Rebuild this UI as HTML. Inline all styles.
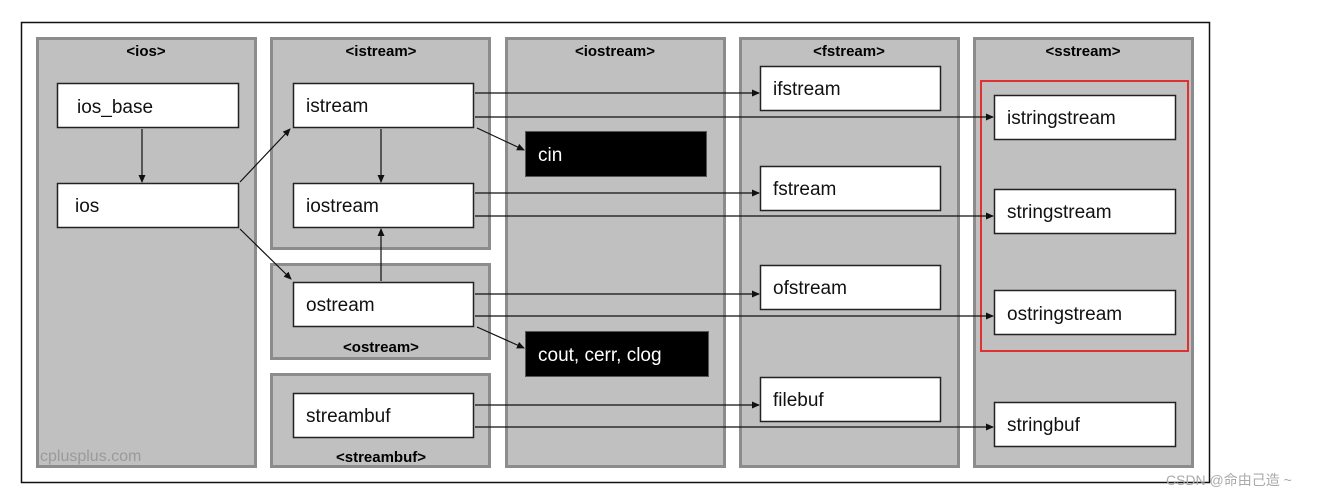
<!DOCTYPE html>
<html><head><meta charset="utf-8"><style>
html,body{margin:0;padding:0;background:#fff;}
svg{display:block;}
text{font-family:"Liberation Sans","Noto Sans CJK SC",sans-serif;}
.h{font-weight:bold;font-size:15px;text-anchor:middle;fill:#000;}
.t{font-size:19px;fill:#111;}
.p{fill:#c0c0c0;stroke:#8c8c8c;stroke-width:3;}
.b{fill:#fff;stroke:#222;stroke-width:1.5;}
.k{fill:#000;stroke:#555;stroke-width:1;}
.l{stroke:#111;stroke-width:1.2;fill:none;marker-end:url(#a);}
</style></head><body>
<svg width="1320" height="496" viewBox="0 0 1320 496">
<defs><marker id="a" markerWidth="8" markerHeight="8" refX="7" refY="3.5" orient="auto" markerUnits="userSpaceOnUse"><path d="M0,0 L8,3.5 L0,7 z" fill="#111"/></marker></defs>
<rect x="21.5" y="22.5" width="1188" height="460" fill="#fff" stroke="#111" stroke-width="1.5"/>
<rect class="p" x="37.5" y="38.5" width="218" height="428"/>
<rect class="p" x="271.5" y="38.5" width="218" height="210"/>
<rect class="p" x="271.5" y="264.5" width="218" height="94"/>
<rect class="p" x="271.5" y="374.5" width="218" height="92"/>
<rect class="p" x="506.5" y="38.5" width="218" height="428"/>
<rect class="p" x="740.5" y="38.5" width="218" height="428"/>
<rect class="p" x="974.5" y="38.5" width="218" height="428"/>
<text class="h" x="146" y="56">&lt;ios&gt;</text>
<text class="h" x="381" y="56">&lt;istream&gt;</text>
<text class="h" x="381" y="352">&lt;ostream&gt;</text>
<text class="h" x="381" y="462">&lt;streambuf&gt;</text>
<text class="h" x="615" y="56">&lt;iostream&gt;</text>
<text class="h" x="849" y="56">&lt;fstream&gt;</text>
<text class="h" x="1083" y="56">&lt;sstream&gt;</text>
<text x="40" y="461" font-size="16" fill="#9a9a9a" style="font-family:'Liberation Sans',sans-serif">cplusplus.com</text>
<rect x="981" y="81" width="207" height="270" fill="none" stroke="#e03030" stroke-width="2"/>
<rect class="b" x="57.5" y="83.5" width="181" height="44"/><text class="t" x="77" y="113">ios_base</text>
<rect class="b" x="57.5" y="183.5" width="181" height="44"/><text class="t" x="75" y="212">ios</text>
<rect class="b" x="293.5" y="83.5" width="180" height="44"/><text class="t" x="306" y="112">istream</text>
<rect class="b" x="293.5" y="183.5" width="180" height="44"/><text class="t" x="306" y="212">iostream</text>
<rect class="b" x="293.5" y="282.5" width="180" height="44"/><text class="t" x="306" y="311">ostream</text>
<rect class="b" x="293.5" y="393.5" width="180" height="44"/><text class="t" x="306" y="422">streambuf</text>
<rect class="k" x="525.5" y="131.5" width="181" height="45"/><text class="t" x="538" y="161" fill="#fff" style="fill:#fff">cin</text>
<rect class="k" x="525.5" y="331.5" width="183" height="45"/><text class="t" x="538" y="361" style="fill:#fff">cout, cerr, clog</text>
<rect class="b" x="760.5" y="66.5" width="180" height="44"/><text class="t" x="773" y="95">ifstream</text>
<rect class="b" x="760.5" y="166.5" width="180" height="44"/><text class="t" x="773" y="195">fstream</text>
<rect class="b" x="760.5" y="265.5" width="180" height="44"/><text class="t" x="773" y="294">ofstream</text>
<rect class="b" x="760.5" y="377.5" width="180" height="44"/><text class="t" x="773" y="406">filebuf</text>
<rect class="b" x="994.5" y="95.5" width="181" height="44"/><text class="t" x="1007" y="124">istringstream</text>
<rect class="b" x="994.5" y="189.5" width="181" height="44"/><text class="t" x="1007" y="218">stringstream</text>
<rect class="b" x="994.5" y="290.5" width="181" height="44"/><text class="t" x="1007" y="320">ostringstream</text>
<rect class="b" x="994.5" y="402.5" width="181" height="44"/><text class="t" x="1007" y="431">stringbuf</text>
<line class="l" x1="142" y1="129" x2="142" y2="182"/>
<line class="l" x1="240" y1="182" x2="290" y2="129"/>
<line class="l" x1="240" y1="229" x2="291" y2="279"/>
<line class="l" x1="381" y1="129" x2="381" y2="182"/>
<line class="l" x1="381" y1="281" x2="381" y2="229"/>
<line class="l" x1="475" y1="93" x2="759" y2="93"/>
<line class="l" x1="475" y1="117" x2="993" y2="117"/>
<line class="l" x1="477" y1="128" x2="524" y2="150"/>
<line class="l" x1="475" y1="193" x2="759" y2="193"/>
<line class="l" x1="475" y1="216" x2="993" y2="216"/>
<line class="l" x1="475" y1="294" x2="759" y2="294"/>
<line class="l" x1="475" y1="316" x2="993" y2="316"/>
<line class="l" x1="477" y1="327" x2="524" y2="348"/>
<line class="l" x1="475" y1="405" x2="759" y2="405"/>
<line class="l" x1="475" y1="427" x2="993" y2="427"/>
<text x="1166" y="485" font-size="14" fill="#aaa">CSDN @命由己造 ~</text>
</svg>
</body></html>
